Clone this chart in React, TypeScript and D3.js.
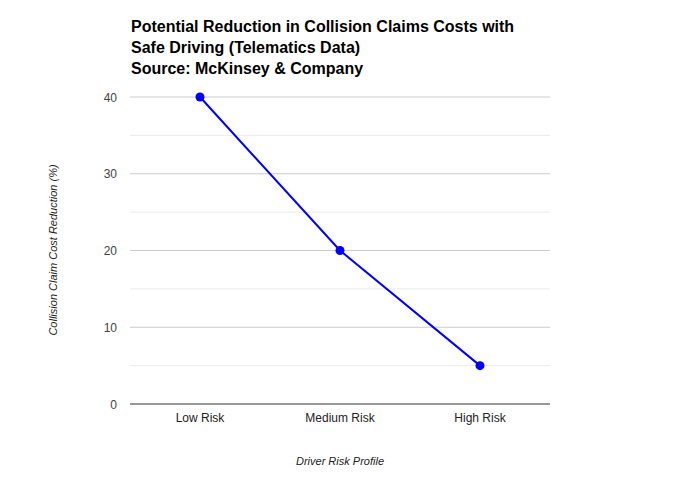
import React from "react";
import * as d3 from "d3";

const categories = ["Low Risk", "Medium Risk", "High Risk"];
const values = [40, 20, 5];
const yTicks = [0, 10, 20, 30, 40];
const yMinorTicks = [5, 15, 25, 35];
const titleLines = [
  "Potential Reduction in Collision Claims Costs with",
  "Safe Driving (Telematics Data)",
  "Source: McKinsey & Company",
];

export default function App() {
  const W = 680, H = 500;
  const left = 130, right = 550, top = 97, bottom = 404;
  const x = d3.scaleBand<string>().domain(categories).range([left, right]);
  const y = d3.scaleLinear().domain([0, 40]).range([bottom, top]);
  const cx = (c: string) => (x(c) ?? 0) + x.bandwidth() / 2;
  const line = d3.line<number>().x((_, i) => cx(categories[i])).y((d) => y(d));
  const font = "Arial, 'Liberation Sans', sans-serif";
  return (
    <svg width={W} height={H} style={{ position: "absolute", left: 0, top: 0, fontFamily: font }}>
      <rect width={W} height={H} fill="#fff" />
      {titleLines.map((t, i) => (
        <text key={i} x={131} y={32 + i * 21} fontSize={16} fontWeight="bold" fill="#000">{t}</text>
      ))}
      {yMinorTicks.map((t) => (
        <line key={"m" + t} x1={left} x2={right} y1={y(t)} y2={y(t)} stroke="#ebebeb" strokeWidth={1} />
      ))}
      {yTicks.map((t) => (
        <g key={t}>
          {t !== 0 && <line x1={left} x2={right} y1={y(t)} y2={y(t)} stroke="#cccccc" strokeWidth={1} />}
          <text x={117} y={y(t) + 4.5} textAnchor="end" fontSize={12} fill="#444">{t}</text>
        </g>
      ))}
      <line x1={left} x2={right} y1={y(0)} y2={y(0)} stroke="#333" strokeWidth={1} />
      {categories.map((c) => (
        <text key={c} x={cx(c)} y={422} textAnchor="middle" fontSize={12} fill="#222">{c}</text>
      ))}
      <path d={line(values) ?? ""} fill="none" stroke="#0000ff" strokeWidth={2} />
      {values.map((v, i) => (
        <circle key={i} cx={cx(categories[i])} cy={y(v)} r={4.5} fill="#0000ff" />
      ))}
      <text x={340} y={465} textAnchor="middle" fontSize={11} fontStyle="italic" fill="#222">Driver Risk Profile</text>
      <text transform={`translate(57,250) rotate(-90)`} textAnchor="middle" fontSize={11} fontStyle="italic" fill="#222">Collision Claim Cost Reduction (%)</text>
    </svg>
  );
}
